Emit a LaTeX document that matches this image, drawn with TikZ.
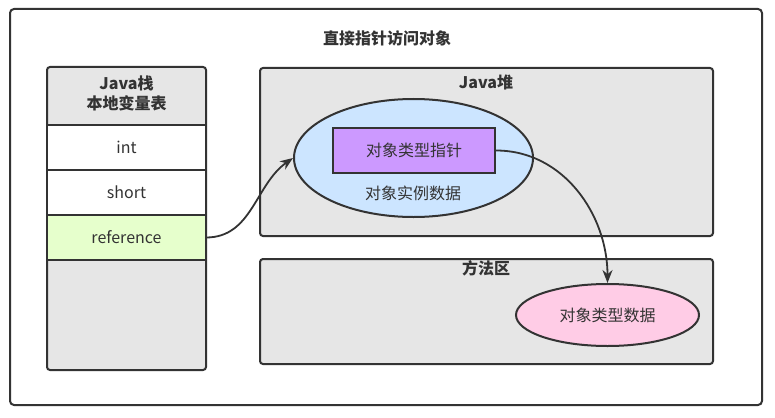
\documentclass[tikz,border=0pt]{standalone}
\usepackage{fontspec}
\setmainfont{Noto Sans CJK SC}
\usetikzlibrary{arrows.meta,positioning,shapes.geometric}
\definecolor{linegray}{HTML}{333333}
\definecolor{areagray}{HTML}{E6E6E6}
\definecolor{heapblue}{HTML}{CCE5FF}
\definecolor{ptrpurple}{HTML}{CC99FF}
\definecolor{typepink}{HTML}{FFCCE6}
\definecolor{refgreen}{HTML}{E6FFCC}

\begin{document}
\begin{tikzpicture}[
    x=1pt, y=-1pt,
    every node/.style={font=\fontsize{16}{20}\selectfont, text=linegray},
    area/.style={draw=linegray, line width=2pt, fill=areagray, rounded corners=3pt, inner sep=0pt},
    slot/.style={draw=linegray, line width=2pt, fill=white, minimum width=159pt, minimum height=45pt, inner sep=0pt, outer sep=0pt},
    blob/.style={ellipse, draw=linegray, line width=2pt, inner sep=0pt},
    heading/.style={font=\fontsize{16}{20}\selectfont\bfseries, align=center},
    arr/.style={-{Stealth[length=13pt,width=10pt]}, draw=linegray, line width=1.8pt}
]
\useasboundingbox (0,0) rectangle (775,417);
\node[draw=linegray, line width=2pt, rounded corners=4pt, fill=white,
      minimum width=752pt, minimum height=396pt, inner sep=0pt] (frame) at (386,207) {};
\node[heading] (caption) at (387,38) {直接指针访问对象};
% Java stack
\node[area, minimum width=159pt, minimum height=303pt] (stack) at (126.5,218.5) {};
\node[heading] (stacktitle) at (126.5,93) {Java栈\\本地变量表};
\node[slot] (int) at (126.5,147.5) {int};
\node[slot] (short) [below=0pt of int] {short};
\node[slot, fill=refgreen] (reference) [below=0pt of short] {reference};
% Java heap
\node[area, minimum width=453pt, minimum height=168pt] (heap) at (486.5,152) {};
\node[heading] (heaptitle) at (486,82) {Java堆};
\node[blob, fill=heapblue, minimum width=239pt, minimum height=118pt] (obj) at (413.5,158) {};
\node[draw=linegray, line width=2pt, fill=ptrpurple, minimum width=162pt, minimum height=45pt] (ptr) at (414,150.5) {对象类型指针};
\node (objdata) at (413,193) {对象实例数据};
% method area
\node[area, minimum width=453pt, minimum height=105pt] (method) at (486.5,311.5) {};
\node[heading] (methodtitle) at (486,268) {方法区};
\node[blob, fill=typepink, minimum width=183pt, minimum height=62pt] (typedata) at (607.5,315) {对象类型数据};
\draw[arr] (reference.east) to[out=0, in=215] (obj.west);
\draw[arr] (ptr.east) to[out=0, in=90] (typedata.north);
\end{tikzpicture}
\end{document}
